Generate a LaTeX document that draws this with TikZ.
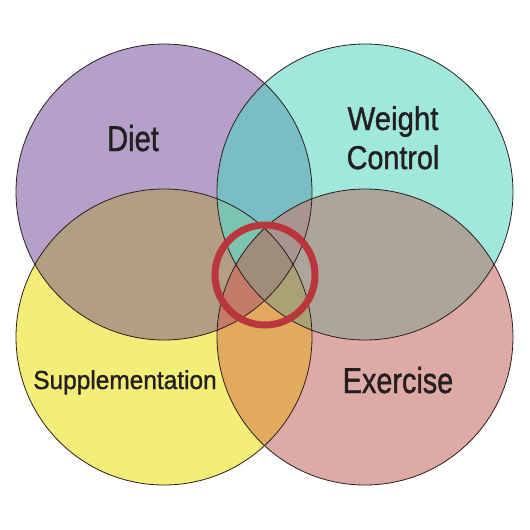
\documentclass[tikz,border=0pt]{standalone}
\usepackage{fontspec}
\setmainfont{Liberation Sans}
\newfontfamily\labelfont{Liberation Sans}[BoldFont={Liberation Sans},BoldFeatures={FakeBold=1.2}]
\usepackage{graphicx}
\definecolor{cDiet}{HTML}{B4A0C8}
\definecolor{cWC}{HTML}{A0E8DC}
\definecolor{cSup}{HTML}{F2EE78}
\definecolor{cExe}{HTML}{DEAAA5}
\definecolor{cDW}{HTML}{78BEC4}
\definecolor{cDS}{HTML}{B29E82}
\definecolor{cWE}{HTML}{ACA59A}
\definecolor{cSE}{HTML}{E2AA5C}
\definecolor{cDWS}{HTML}{7CC4B0}
\definecolor{cDWE}{HTML}{A8958F}
\definecolor{cDSE}{HTML}{C27C68}
\definecolor{cWSE}{HTML}{A8A274}
\definecolor{cAll}{HTML}{A08C7A}
\definecolor{cLine}{HTML}{2B1E1E}
\definecolor{cRed}{HTML}{B9373C}
\definecolor{cText}{HTML}{231F20}
\begin{document}
\begin{tikzpicture}[x=1pt,y=-1pt,
  outline/.style={draw=cLine,line width=0.8pt},
  label/.style={text=cText,inner sep=0pt,anchor=base,font=\labelfont\bfseries},
  ring/.style={draw=cRed,line width=7pt}]
\useasboundingbox[fill=white] (0,0) rectangle (530,530);
\coordinate (D) at (164,192);
\coordinate (W) at (365,192);
\coordinate (S) at (164,337);
\coordinate (E) at (365,337);
\def\R{148pt}
% single circles
\fill[cDiet] (D) circle[radius=\R];
\fill[cWC] (W) circle[radius=\R];
\fill[cSup] (S) circle[radius=\R];
\fill[cExe] (E) circle[radius=\R];
% pairs
\begin{scope}\clip (D) circle[radius=\R]; \fill[cDW] (W) circle[radius=\R]; \end{scope}
\begin{scope}\clip (D) circle[radius=\R]; \fill[cDS] (S) circle[radius=\R]; \end{scope}
\begin{scope}\clip (W) circle[radius=\R]; \fill[cWE] (E) circle[radius=\R]; \end{scope}
\begin{scope}\clip (S) circle[radius=\R]; \fill[cSE] (E) circle[radius=\R]; \end{scope}
% triples
\begin{scope}\clip (D) circle[radius=\R]; \clip (W) circle[radius=\R]; \fill[cDWS] (S) circle[radius=\R]; \end{scope}
\begin{scope}\clip (D) circle[radius=\R]; \clip (W) circle[radius=\R]; \fill[cDWE] (E) circle[radius=\R]; \end{scope}
\begin{scope}\clip (D) circle[radius=\R]; \clip (S) circle[radius=\R]; \fill[cDSE] (E) circle[radius=\R]; \end{scope}
\begin{scope}\clip (W) circle[radius=\R]; \clip (S) circle[radius=\R]; \fill[cWSE] (E) circle[radius=\R]; \end{scope}
% all four
\begin{scope}\clip (D) circle[radius=\R]; \clip (W) circle[radius=\R]; \clip (S) circle[radius=\R]; \fill[cAll] (E) circle[radius=\R]; \end{scope}
% outlines
\draw[outline] (D) circle[radius=\R];
\draw[outline] (W) circle[radius=\R];
\draw[outline] (S) circle[radius=\R];
\draw[outline] (E) circle[radius=\R];
% red ring
\coordinate (C) at (265,275);
\draw[ring] (C) circle[radius=50pt];
% labels
\node[label] (ldiet) at (133,151) {\fontsize{36}{40}\selectfont\scalebox{0.81}[1]{Diet}};
\node[label] (lw1) at (393,130) {\fontsize{33}{39}\selectfont\scalebox{0.89}[1]{Weight}};
\node[label] (lw2) at (393,169) {\fontsize{33}{39}\selectfont\scalebox{0.87}[1]{Control}};
\node[label] (lexe) at (398,393) {\fontsize{36}{40}\selectfont\scalebox{0.80}[1]{Exercise}};
\node[label] (lsup) at (125,389) {\fontsize{26}{30}\selectfont\scalebox{0.94}[1]{Supplementation}};
\end{tikzpicture}
\end{document}
